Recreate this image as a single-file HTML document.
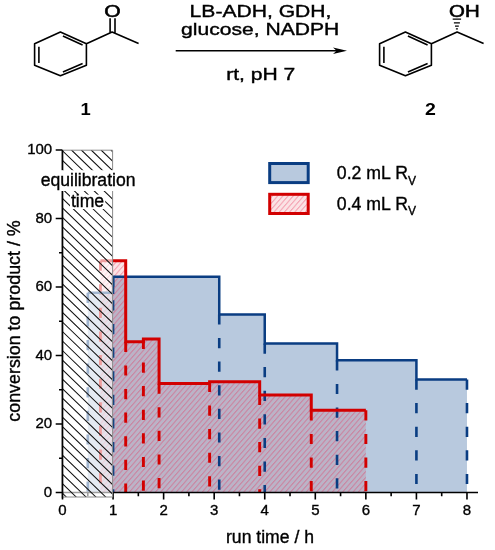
<!DOCTYPE html>
<html><head><meta charset="utf-8"><title>Figure</title>
<style>html,body{margin:0;padding:0;background:#fff}svg{display:block}</style></head>
<body>
<svg width="495" height="550" viewBox="0 0 495 550" font-family="'Liberation Sans', Arial, sans-serif" fill="#000"><style>text{stroke:#000;stroke-width:0.35px;paint-order:stroke}</style>
<defs>
<pattern id="rh" width="5.2" height="10" patternUnits="userSpaceOnUse" patternTransform="skewX(-41)"><rect x="0" y="0" width="1.5" height="10" fill="#e82855" fill-opacity="0.32"/></pattern>
<clipPath id="eqc"><rect x="62.5" y="150" width="50.2" height="347"/></clipPath>
</defs>
<rect width="495" height="550" fill="#fff"/>
<path d="M87.78,492.5 L87.78,292.82 L113.06,292.82 L113.06,276.73 L219.24,276.73 L219.24,314.4 L264.74,314.4 L264.74,343.51 L337.04,343.51 L337.04,360.3 L416.42,360.3 L416.42,379.48 L466.98,379.48 L466.98,492.5Z" fill="#b8c9de"/>
<path d="M100.42,492.5 L100.42,260.63 L125.7,260.63 L125.7,341.8 L143.4,341.8 L143.4,338.89 L159.07,338.89 L159.07,383.59 L209.63,383.59 L209.63,381.87 L259.68,381.87 L259.68,394.89 L311.26,394.89 L311.26,410.3 L365.86,410.3 L365.86,492.5Z" fill="#dd0014" fill-opacity="0.11"/>
<path d="M100.42,492.5 L100.42,260.63 L125.7,260.63 L125.7,341.8 L143.4,341.8 L143.4,338.89 L159.07,338.89 L159.07,383.59 L209.63,383.59 L209.63,381.87 L259.68,381.87 L259.68,394.89 L311.26,394.89 L311.26,410.3 L365.86,410.3 L365.86,492.5Z" fill="url(#rh)"/>
<path d="M87.78,292.82 V492.5 M113.06,276.73 V492.5 M219.24,314.4 V492.5 M264.74,343.51 V492.5 M337.04,360.3 V492.5 M416.42,379.48 V492.5 M466.98,379.48 V492.5" stroke="#0a3d82" stroke-width="2.6" stroke-dasharray="10.2 13.4" fill="none"/>
<path d="M100.42,260.63 V492.5 M125.7,341.8 V492.5 M143.4,338.89 V492.5 M159.07,383.59 V492.5 M209.63,381.87 V492.5 M259.68,394.89 V492.5 M311.26,410.3 V492.5 M365.86,410.3 V492.5" stroke="#d20000" stroke-width="2.9" stroke-dasharray="10.2 13.4" fill="none"/>
<path d="M87.78,292.82 L113.06,292.82 L113.06,276.73 L219.24,276.73 L219.24,314.4 L264.74,314.4 L264.74,343.51 L337.04,343.51 L337.04,360.3 L416.42,360.3 L416.42,379.48 L466.98,379.48" stroke="#0a3d82" stroke-width="2.5" fill="none" stroke-linejoin="miter"/>
<path d="M100.42,260.63 L125.7,260.63 L125.7,341.8 L143.4,341.8 L143.4,338.89 L159.07,338.89 L159.07,383.59 L209.63,383.59 L209.63,381.87 L259.68,381.87 L259.68,394.89 L311.26,394.89 L311.26,410.3 L365.86,410.3" stroke="#d20000" stroke-width="3" fill="none" stroke-linejoin="miter"/>
<path d="M62.5,150 V498.3 M56,492.5 H478 M55.7,492.5 H62.5 M59.0,458.25 H62.5 M55.7,424.0 H62.5 M59.0,389.75 H62.5 M55.7,355.5 H62.5 M59.0,321.25 H62.5 M55.7,287.0 H62.5 M59.0,252.75 H62.5 M55.7,218.5 H62.5 M59.0,184.25 H62.5 M55.7,150.0 H62.5 M62.5,492.5 V499.4 M87.78,492.5 V496.2 M113.06,492.5 V499.4 M138.34,492.5 V496.2 M163.62,492.5 V499.4 M188.9,492.5 V496.2 M214.18,492.5 V499.4 M239.46,492.5 V496.2 M264.74,492.5 V499.4 M290.02,492.5 V496.2 M315.3,492.5 V499.4 M340.58,492.5 V496.2 M365.86,492.5 V499.4 M391.14,492.5 V496.2 M416.42,492.5 V499.4 M441.7,492.5 V496.2 M466.98,492.5 V499.4" stroke="#000" stroke-width="1.6" fill="none"/>
<rect x="63.2" y="150" width="49.5" height="347" fill="#fff" fill-opacity="0.62"/>
<g clip-path="url(#eqc)"><path d="M-332.8,150 l360,347.3 M-322.94,150 l360,347.3 M-313.08,150 l360,347.3 M-303.22,150 l360,347.3 M-293.36,150 l360,347.3 M-283.5,150 l360,347.3 M-273.64,150 l360,347.3 M-263.78,150 l360,347.3 M-253.92,150 l360,347.3 M-244.06,150 l360,347.3 M-234.2,150 l360,347.3 M-224.34,150 l360,347.3 M-214.48,150 l360,347.3 M-204.62,150 l360,347.3 M-194.76,150 l360,347.3 M-184.9,150 l360,347.3 M-175.04,150 l360,347.3 M-165.18,150 l360,347.3 M-155.32,150 l360,347.3 M-145.46,150 l360,347.3 M-135.6,150 l360,347.3 M-125.74,150 l360,347.3 M-115.88,150 l360,347.3 M-106.02,150 l360,347.3 M-96.16,150 l360,347.3 M-86.3,150 l360,347.3 M-76.44,150 l360,347.3 M-66.58,150 l360,347.3 M-56.72,150 l360,347.3 M-46.86,150 l360,347.3 M-37.0,150 l360,347.3 M-27.14,150 l360,347.3 M-17.28,150 l360,347.3 M-7.42,150 l360,347.3 M2.44,150 l360,347.3 M12.3,150 l360,347.3 M22.16,150 l360,347.3 M32.02,150 l360,347.3 M41.88,150 l360,347.3 M51.74,150 l360,347.3 M61.6,150 l360,347.3 M71.46,150 l360,347.3 M81.32,150 l360,347.3 M91.18,150 l360,347.3 M101.04,150 l360,347.3 M110.9,150 l360,347.3" stroke="#111" stroke-width="1.05" fill="none"/></g>
<path d="M63,150.2 H112.6 V497 H63" stroke="#8a8a8a" stroke-width="1" fill="none"/>
<path d="M62.5,150 V498.3" stroke="#000" stroke-width="1.4" fill="none"/>
<rect x="39" y="170.2" width="98" height="20.8" fill="#fff"/>
<rect x="70" y="194.6" width="35.2" height="14.4" fill="#fff"/>
<text x="88.1" y="185.6" font-size="17.6" text-anchor="middle">equilibration</text>
<text x="87.5" y="207" font-size="17.6" text-anchor="middle">time</text>
<text x="52.2" y="496.7" font-size="15" text-anchor="end">0</text>
<text x="52.2" y="428.2" font-size="15" text-anchor="end">20</text>
<text x="52.2" y="359.7" font-size="15" text-anchor="end">40</text>
<text x="52.2" y="291.2" font-size="15" text-anchor="end">60</text>
<text x="52.2" y="222.7" font-size="15" text-anchor="end">80</text>
<text x="52.2" y="154.2" font-size="15" text-anchor="end">100</text>
<text x="62.5" y="515.4" font-size="15" text-anchor="middle">0</text>
<text x="113.06" y="515.4" font-size="15" text-anchor="middle">1</text>
<text x="163.62" y="515.4" font-size="15" text-anchor="middle">2</text>
<text x="214.18" y="515.4" font-size="15" text-anchor="middle">3</text>
<text x="264.74" y="515.4" font-size="15" text-anchor="middle">4</text>
<text x="315.3" y="515.4" font-size="15" text-anchor="middle">5</text>
<text x="365.86" y="515.4" font-size="15" text-anchor="middle">6</text>
<text x="416.42" y="515.4" font-size="15" text-anchor="middle">7</text>
<text x="466.98" y="515.4" font-size="15" text-anchor="middle">8</text>
<text x="270" y="542.6" font-size="17.6" text-anchor="middle">run time / h</text>
<text transform="translate(20,321) rotate(-90)" font-size="17.85" text-anchor="middle">conversion to product / %</text>
<rect x="269.7" y="163.5" width="38.5" height="19.1" fill="#b8c9de" stroke="#0a3d82" stroke-width="3"/>
<rect x="269.7" y="194.3" width="38.5" height="19.2" fill="#dd0014" fill-opacity="0.11"/>
<rect x="269.7" y="194.3" width="38.5" height="19.2" fill="url(#rh)" stroke="#d20000" stroke-width="3"/>
<text x="336.8" y="179.4" font-size="17.7">0.2 mL R<tspan font-size="12" dy="5.3">V</tspan></text>
<text x="336.8" y="209.8" font-size="17.7">0.4 mL R<tspan font-size="12" dy="5.3">V</tspan></text>
<path d="M60.4,32.1 L86.4,43.7 L86.4,65.2 L60.4,75.8 L34.6,65.2 L34.6,43.7Z M38.9,46.7 V63.1 M62.9,36.1 L82.6,45 M62.9,72 L82.6,63.6 M86.4,43.7 L112.1,32.1 L138.6,43.4 M110.1,18.3 V32.6 M115,18.3 V32.6" stroke="#000" stroke-width="1.6" fill="none" stroke-linejoin="round" stroke-linecap="butt"/>
<path d="M405.4,32.1 L431.4,43.7 L431.4,65.2 L405.4,75.8 L379.6,65.2 L379.6,43.7Z M383.9,46.7 V63.1 M407.9,36.1 L427.6,45 M407.9,72 L427.6,63.6 M431.4,43.7 L457.1,32.1 L483.6,43.4" stroke="#000" stroke-width="1.6" fill="none" stroke-linejoin="round" stroke-linecap="butt"/>
<path d="M452.7,19.1 H461.09999999999997 M453.9,22.8 H459.9 M455.0,26.1 H458.79999999999995 M455.9,28.9 H457.9" stroke="#000" stroke-width="1.15" fill="none"/>
<text transform="translate(112.4,16.7) scale(1.22,1)" font-size="17.3" text-anchor="middle" style="stroke-width:0.6px">O</text>
<text transform="translate(449.1,16.7) scale(1.18,1)" font-size="17.3" style="stroke-width:0.6px">OH</text>
<text transform="translate(260.5,17.1) scale(1.22,1)" font-size="17.3" text-anchor="middle" style="stroke-width:0.4px">LB-ADH, GDH,</text>
<text transform="translate(260.2,35.4) scale(1.22,1)" font-size="17.3" text-anchor="middle" style="stroke-width:0.4px">glucose, NADPH</text>
<text transform="translate(260.7,80.1) scale(1.22,1)" font-size="17.3" text-anchor="middle" style="stroke-width:0.4px">rt, pH 7</text>
<path d="M175.7,50.8 H338" stroke="#000" stroke-width="1.5" fill="none"/>
<path d="M347,50.8 L333,47.6 L336.6,50.8 L333,54 Z" fill="#000"/>
<text transform="translate(85.6,114.6) scale(1.15,1)" font-size="16" font-weight="bold" text-anchor="middle" style="stroke-width:0">1</text>
<text transform="translate(430.3,114.7) scale(1.22,1)" font-size="16" font-weight="bold" text-anchor="middle" style="stroke-width:0">2</text>
</svg>
</body></html>
